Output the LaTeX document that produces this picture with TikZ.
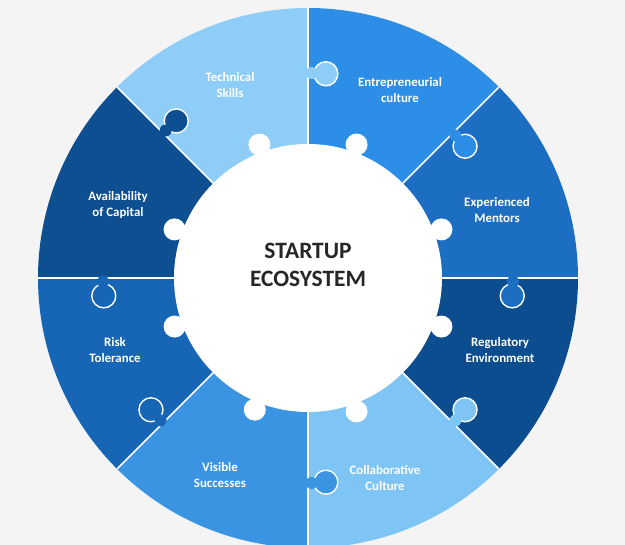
\documentclass[tikz,border=0pt]{standalone}
\usepackage{fontspec}
\setmainfont{Carlito}
\definecolor{cA}{HTML}{2C8EE6}
\definecolor{cB}{HTML}{1C6EC2}
\definecolor{cC}{HTML}{0B4D8E}
\definecolor{cD}{HTML}{7EC4F5}
\definecolor{cE}{HTML}{3A94E2}
\definecolor{cF}{HTML}{1766B6}
\definecolor{cG}{HTML}{0D4F90}
\definecolor{cH}{HTML}{8ECDF7}
\definecolor{bg}{HTML}{F4F4F4}
\begin{document}
\begin{tikzpicture}[x=0.03cm,y=0.03cm,
  lbl/.style={text=white,font=\bfseries\fontsize{11}{13}\selectfont,align=center},
  knob/.style={draw=white,line width=1.2pt}]
\fill[bg] (-308,-267) rectangle (317,278);
\useasboundingbox (-308,-267) rectangle (317,278);
\clip (-308,-267) rectangle (317,278);
\def\R{270}
\foreach \a/\c in {90/cA,45/cB,0/cC,-45/cD,-90/cE,-135/cF,180/cG,135/cH}{
  \fill[\c] (0,0) -- (\a:\R) arc[start angle=\a,delta angle=-45,radius=\R] -- cycle;
}
\foreach \a in {0,45,...,315} \draw[white,line width=1.5pt] (0,0) -- (\a:\R);
% knobs on radial boundaries: angle/offset/color
\foreach \a/\d/\c in {90/-5/cH,45/-5/cA,0/-5/cB,-45/5/cD,-90/5/cE,-135/-5/cF,180/5/cF,135/-5/cG}{
  \fill[\c,knob] (\a+\d:205) circle (12);
  \fill[\c] (\a+\d*0.2:205) circle (6);
}
% central circle with bumps
\fill[white] (0,0) circle (134);
\foreach \a in {110,70,20,-20,-70,-112,-160,160}{
  \fill[white] (\a:142) circle (11);
  \fill[white] (\a:134) circle (7);
}
\node[font=\bfseries\fontsize{20}{24}\selectfont,align=center,text=black!85] (c) at (0,13) {STARTUP\\ECOSYSTEM};
\node[lbl] (t1) at (-78,193) {Technical\\Skills};
\node[lbl] (t2) at (92,188) {Entrepreneurial\\culture};
\node[lbl] (t3) at (189,68) {Experienced\\Mentors};
\node[lbl] (t4) at (192,-72) {Regulatory\\Environment};
\node[lbl] (t5) at (77,-200) {Collaborative\\Culture};
\node[lbl] (t6) at (-88,-197) {Visible\\Successes};
\node[lbl] (t7) at (-193,-72) {Risk\\Tolerance};
\node[lbl] (t8) at (-190,73) {Availability\\of Capital};
\end{tikzpicture}
\end{document}
